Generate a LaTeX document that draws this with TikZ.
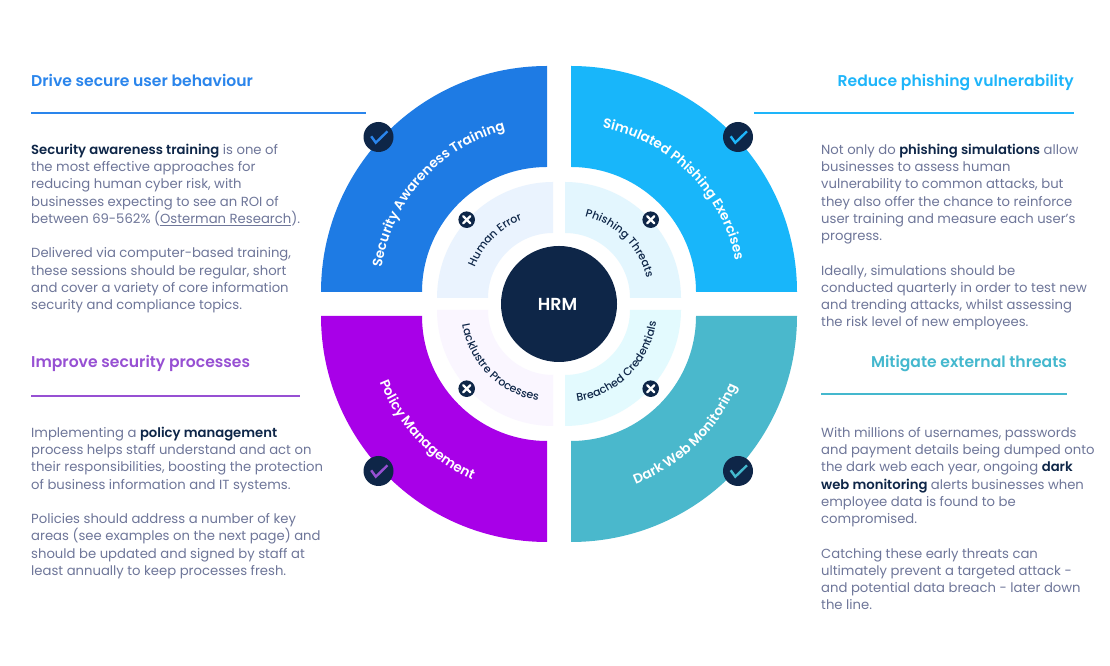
\documentclass[tikz,border=0pt]{standalone}
\usepackage{fontspec}
\setmainfont[BoldFont=Poppins SemiBold]{Poppins}
\newfontfamily\mediumfont{Poppins Medium}
\usetikzlibrary{calc,shapes,positioning,decorations.text}

\definecolor{navy}{RGB}{14,38,72}
\definecolor{bodygrey}{RGB}{110,118,153}
\definecolor{secblue}{RGB}{30,123,228}
\definecolor{seccyan}{RGB}{24,182,250}
\definecolor{secviolet}{RGB}{168,0,232}
\definecolor{secteal}{RGB}{74,184,204}
\definecolor{headblue}{RGB}{42,133,236}
\definecolor{headcyan}{RGB}{30,181,250}
\definecolor{headviolet}{RGB}{151,80,211}
\definecolor{headteal}{RGB}{68,184,206}
\definecolor{paleblue}{RGB}{234,243,254}
\definecolor{palecyan}{RGB}{227,246,254}
\definecolor{paleviolet}{RGB}{250,246,255}
\definecolor{paleteal}{RGB}{227,250,254}

\newcommand{\bodyfont}{\fontsize{13.2}{17.25}\selectfont}
\newcommand{\headfont}{\fontsize{15.6}{18}\selectfont\bfseries}
\newcommand{\sectorfont}{\fontsize{13.5}{16}\selectfont\bfseries\color{white}}
\newcommand{\threatfont}{\mediumfont\fontsize{11}{14}\selectfont\color{navy}}
\newcommand{\keyword}[1]{\textbf{\color{navy}#1}}

\tikzset{
    bodytext/.style={anchor=north west,inner sep=0pt,align=left,font=\bodyfont,text=bodygrey},
    headtext/.style={inner sep=0pt,font=\headfont},
    headrule/.style={line width=1.3pt},
    checkdot/.style={circle,fill=navy,inner sep=0pt,minimum size=30pt},
    crossdot/.style={circle,fill=navy,inner sep=0pt,minimum size=16.6pt},
    checkmark/.style={line width=2.4pt},
    crossmark/.style={line width=2.3pt,white,line cap=round},
}

\begin{document}
\begin{tikzpicture}[x=1pt,y=1pt]
    \useasboundingbox (0,0) rectangle (1110,666);
    \fill[white] (0,0) rectangle (1110,666);
    % outer and inner quarter rings
    \foreach \cx/\cy/\a/\col in {547/374/90/secblue,571/374/0/seccyan,547/350/180/secviolet,571/350/270/secteal} {%
        \begin{scope}[shift={(\cx,\cy)}]
            \fill[\col] (\a:226) arc (\a:\a+90:226) -- (\a+90:125) arc (\a+90:\a:125) -- cycle;
        \end{scope}
    }
    \foreach \cx/\cy/\a/\col in {553/368/90/paleblue,565/368/0/palecyan,553/356/180/paleviolet,565/356/270/paleteal} {%
        \begin{scope}[shift={(\cx,\cy)}]
            \fill[\col] (\a:116) arc (\a:\a+90:116) -- (\a+90:65) arc (\a+90:\a:65) -- cycle;
        \end{scope}
    }
    \node[circle,fill=navy,inner sep=0pt,minimum size=116pt] (hrm) at (559,362) {};
    \node[text=white,inner sep=0pt,font=\fontsize{17.4}{20}\selectfont\bfseries] (hrmlabel) at (557.5,362) {HRM};
    % curved labels
    \path[decorate,decoration={text along path,text align=center,
        text={|\sectorfont|Security Awareness Training}}]
        (547,374) ++(183:167) arc (183:93:167);
    \path[decorate,decoration={text along path,text align=center,
        text={|\sectorfont|Simulated Phishing Exercises}}]
        (571,374) ++(90:167) arc (90:0:167);
    \path[decorate,decoration={text along path,text align=center,
        text={|\sectorfont|Policy Management}}]
        (547,350) ++(178.5:180) arc (178.5:268.5:180);
    \path[decorate,decoration={text along path,text align=center,
        text={|\sectorfont|Dark Web Monitoring}}]
        (571,350) ++(269:180) arc (269:359:180);
    \path[decorate,decoration={text along path,text align=center,
        text={|\threatfont|Human Error}}]
        (553,368) ++(180:84) arc (180:90:84);
    \path[decorate,decoration={text along path,text align=center,
        text={|\threatfont|Phishing Threats}}]
        (565,368) ++(90:84) arc (90:0:84);
    \path[decorate,decoration={text along path,text align=center,
        text={|\threatfont|Lacklustre Processes}}]
        (553,356) ++(180:92) arc (180:270:92);
    \path[decorate,decoration={text along path,text align=center,
        text={|\threatfont|Breached Credentials}}]
        (565,356) ++(270:92) arc (270:360:92);
    % ticks
    \foreach \i/\x/\y/\col in {1/378.5/529/headblue,2/738/529/headcyan,3/378.5/195/headviolet,4/738/195/headteal} {%
        \node[checkdot] (chk\i) at (\x,\y) {};
        \draw[checkmark,\col] ($(chk\i)+(-7.3,.7)$) -- ($(chk\i)+(-2.7,-5.7)$) -- ($(chk\i)+(9,5.7)$);
    }
    % crosses
    \foreach \i/\x/\y in {1/466.7/446.3,2/650.7/446.3,3/466.7/277.3,4/650.7/277.3} {%
        \node[crossdot] (crs\i) at (\x,\y) {};
        \draw[crossmark] ($(crs\i)+(-3.6,-3.6)$) -- ($(crs\i)+(3.6,3.6)$);
        \draw[crossmark] ($(crs\i)+(-3.6,3.6)$) -- ($(crs\i)+(3.6,-3.6)$);
    }
    % headings
    \node[headtext,anchor=base west,text=headblue] (headtl) at (31,579.7) {Drive secure user behaviour};
    \node[headtext,anchor=base east,text=headcyan] (headtr) at (1074,579.7) {Reduce phishing vulnerability};
    \node[headtext,anchor=base west,text=headviolet] (headbl) at (31,298.7) {Improve security processes};
    \node[headtext,anchor=base east,text=headteal] (headbr) at (1067,298.7) {Mitigate external threats};
    \draw[headrule,headblue] (31,553) -- (366,553);
    \draw[headrule,headcyan] (754,553) -- (1074,553);
    \draw[headrule,headviolet] (31,270) -- (300,270);
    \draw[headrule,headteal] (821,272) -- (1067,272);
    % paragraphs
    \node[bodytext] (bodytl) at (31,524) {\strut\keyword{Security awareness training} is one of\\
        the most effective approaches for\\
        reducing human cyber risk, with\\
        businesses expecting to see an ROI of\\
        between 69-562\% (\underline{Osterman Research}).\\[17.25pt]
        Delivered via computer-based training,\\
        these sessions should be regular, short\\
        and cover a variety of core information\\
        security and compliance topics.};
    \node[bodytext] (bodytr) at (821,524) {\strut Not only do \keyword{phishing simulations} allow\\
        businesses to assess human\\
        vulnerability to common attacks, but\\
        they also offer the chance to reinforce\\
        user training and measure each user's\\
        progress.\\[17.25pt]
        Ideally, simulations should be\\
        conducted quarterly in order to test new\\
        and trending attacks, whilst assessing\\
        the risk level of new employees.};
    \node[bodytext] (bodybl) at (31,241) {\strut Implementing a \keyword{policy management}\\
        process helps staff understand and act on\\
        their responsibilities, boosting the protection\\
        of business information and IT systems.\\[17.25pt]
        Policies should address a number of key\\
        areas (see examples on the next page) and\\
        should be updated and signed by staff at\\
        least annually to keep processes fresh.};
    \node[bodytext] (bodybr) at (821,241) {\strut With millions of usernames, passwords\\
        and payment details being dumped onto\\
        the dark web each year, ongoing \keyword{dark}\\
        \keyword{web monitoring} alerts businesses when\\
        employee data is found to be\\
        compromised.\\[17.25pt]
        Catching these early threats can\\
        ultimately prevent a targeted attack -\\
        and potential data breach - later down\\
        the line.};
\end{tikzpicture}
\end{document}
